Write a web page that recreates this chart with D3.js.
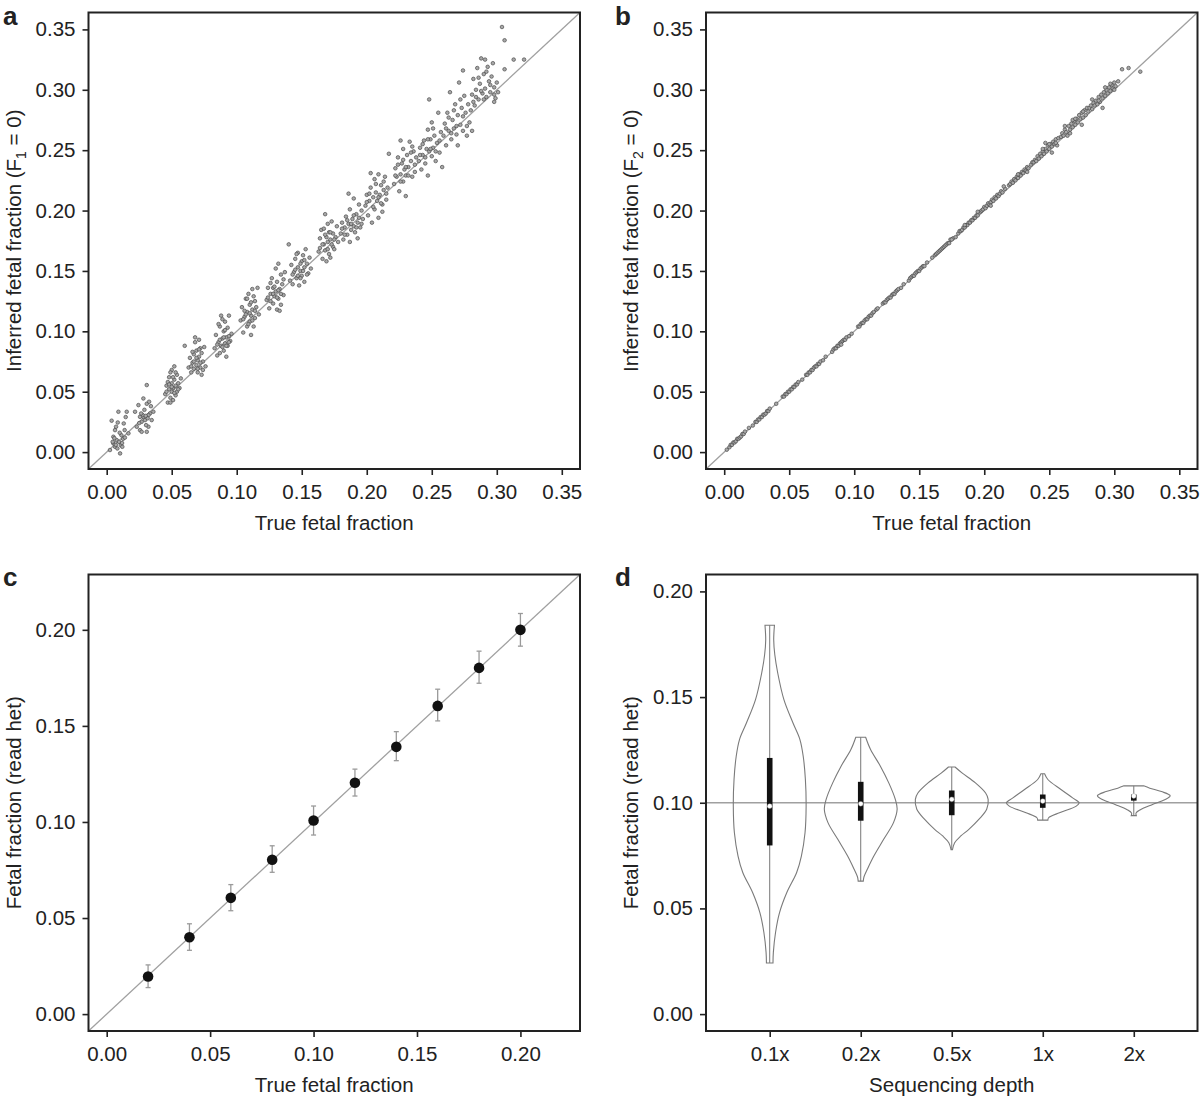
<!DOCTYPE html>
<html><head><meta charset="utf-8">
<script src="https://cdn.jsdelivr.net/npm/d3@7"></script>
<style>
body{margin:0;background:#fff;}
text{font-family:"Liberation Sans",Arial,Helvetica,sans-serif;fill:#222;}
</style></head><body>
<svg id="chart" width="1200" height="1097"></svg>
<script>
// ---------- DATA ----------
// Panel a: [true fetal fraction, inferred (F1 = 0)]
const aPoints = [
[0.0025,0.0017],[0.0051,0.0072],[0.0077,0.0099],[0.0103,-0.0011],[0.0064,0.0182],[0.0090,0.0334],[0.0154,0.0334],[0.0038,0.0260],[0.0131,0.0237],[0.0146,0.0290],[0.0113,0.0140],[0.0095,0.0085],[0.0126,0.0110],[0.0138,0.0182],[0.0064,0.0044],[0.0082,0.0030],[0.0108,0.0058],[0.0051,0.0127],[0.0072,0.0210],[0.0167,0.0155],[0.0046,0.0085],[0.0120,0.0044],
[0.0059,0.0115],[0.0100,0.0160],[0.0118,0.0075],[0.0085,0.0245],[0.0140,0.0120],[0.0070,0.0060],
[0.0256,0.0182],[0.0282,0.0290],[0.0308,0.0400],[0.0244,0.0389],[0.0333,0.0320],[0.0269,0.0251],[0.0295,0.0265],[0.0321,0.0306],[0.0308,0.0555],[0.0359,0.0334],[0.0231,0.0210],[0.0321,0.0210],[0.0218,0.0334],[0.0277,0.0306],[0.0303,0.0223],[0.0346,0.0265],[0.0256,0.0292],[0.0308,0.0168],[0.0326,0.0417],[0.0282,0.0444],[0.0269,0.0168],
[0.0290,0.0350],[0.0315,0.0280],[0.0265,0.0320],[0.0340,0.0380],[0.0250,0.0240],[0.0300,0.0300],
[0.045,0.048],[0.046,0.055],[0.047,0.041],[0.048,0.052],[0.048,0.062],[0.049,0.045],[0.050,0.050],[0.050,0.057],[0.050,0.068],[0.051,0.053],[0.051,0.043],[0.052,0.060],[0.052,0.071],[0.053,0.055],[0.054,0.050],[0.054,0.064],[0.055,0.057],[0.056,0.053],[0.057,0.061],[0.047,0.058],[0.049,0.066],[0.053,0.047],
[0.046,0.050],[0.048,0.056],[0.050,0.054],[0.052,0.049],[0.053,0.066],[0.055,0.052],[0.051,0.062],[0.049,0.041],
[0.060,0.088],[0.063,0.070],[0.064,0.078],[0.065,0.066],[0.066,0.074],[0.067,0.081],[0.067,0.069],[0.068,0.091],[0.069,0.072],[0.069,0.084],[0.070,0.076],[0.070,0.066],[0.071,0.079],[0.071,0.093],[0.072,0.070],[0.073,0.082],[0.073,0.064],[0.074,0.075],[0.075,0.087],[0.076,0.071],[0.068,0.095],[0.072,0.086],
[0.065,0.071],[0.067,0.075],[0.069,0.078],[0.070,0.069],[0.071,0.085],[0.072,0.074],[0.074,0.068],[0.066,0.083],
[0.083,0.086],[0.084,0.097],[0.085,0.080],[0.086,0.091],[0.087,0.104],[0.088,0.088],[0.088,0.113],[0.089,0.094],[0.090,0.084],[0.090,0.100],[0.091,0.090],[0.091,0.108],[0.092,0.095],[0.092,0.079],[0.093,0.103],[0.093,0.088],[0.094,0.113],[0.095,0.092],[0.096,0.098],[0.089,0.110],[0.087,0.082],[0.094,0.096],
[0.085,0.089],[0.087,0.093],[0.089,0.087],[0.090,0.095],[0.091,0.101],[0.092,0.088],[0.094,0.091],[0.086,0.106],
[0.103,0.109],[0.104,0.120],[0.105,0.099],[0.106,0.112],[0.107,0.127],[0.108,0.104],[0.108,0.116],[0.109,0.131],[0.110,0.108],[0.110,0.122],[0.111,0.097],[0.111,0.113],[0.112,0.135],[0.112,0.118],[0.113,0.104],[0.114,0.125],[0.114,0.111],[0.115,0.120],[0.116,0.136],[0.117,0.114],[0.106,0.117],[0.113,0.129],
[0.105,0.110],[0.107,0.114],[0.109,0.106],[0.110,0.115],[0.111,0.124],[0.112,0.109],[0.114,0.117],[0.108,0.127],
[0.123,0.126],[0.124,0.136],[0.125,0.119],[0.126,0.131],[0.127,0.144],[0.128,0.123],[0.128,0.136],[0.129,0.129],[0.130,0.152],[0.130,0.133],[0.131,0.118],[0.131,0.141],[0.132,0.127],[0.132,0.156],[0.133,0.135],[0.134,0.147],[0.134,0.122],[0.135,0.139],[0.136,0.130],[0.137,0.149],[0.126,0.140],[0.133,0.117],
[0.124,0.128],[0.126,0.125],[0.128,0.131],[0.129,0.137],[0.131,0.128],[0.132,0.134],[0.134,0.131],[0.136,0.143],
[0.141,0.142],[0.142,0.155],[0.143,0.139],[0.144,0.149],[0.145,0.160],[0.146,0.144],[0.147,0.153],[0.147,0.165],[0.148,0.138],[0.149,0.150],[0.150,0.158],[0.150,0.146],[0.151,0.163],[0.152,0.153],[0.152,0.141],[0.153,0.168],[0.154,0.156],[0.155,0.148],[0.156,0.161],[0.157,0.152],[0.140,0.172],[0.149,0.144],
[0.143,0.147],[0.145,0.151],[0.147,0.146],[0.149,0.156],[0.151,0.150],[0.152,0.159],[0.154,0.147],[0.146,0.164],
[0.163,0.166],[0.164,0.177],[0.165,0.184],[0.166,0.160],[0.167,0.172],[0.167,0.185],[0.168,0.167],[0.169,0.178],[0.169,0.158],[0.170,0.174],[0.171,0.182],[0.171,0.164],[0.172,0.176],[0.173,0.191],[0.174,0.170],[0.174,0.181],[0.175,0.168],[0.176,0.178],[0.177,0.187],[0.178,0.174],[0.168,0.197],[0.172,0.161],
[0.164,0.169],[0.166,0.172],[0.168,0.180],[0.170,0.168],[0.172,0.182],[0.173,0.172],[0.175,0.176],[0.170,0.189],
[0.180,0.181],[0.181,0.190],[0.182,0.176],[0.183,0.186],[0.184,0.195],[0.185,0.180],[0.186,0.189],[0.187,0.174],[0.187,0.201],[0.188,0.184],[0.189,0.193],[0.190,0.187],[0.190,0.210],[0.191,0.182],[0.192,0.197],[0.193,0.190],[0.194,0.205],[0.195,0.186],[0.196,0.200],[0.197,0.193],[0.186,0.214],[0.193,0.177],
[0.181,0.185],[0.183,0.180],[0.185,0.192],[0.188,0.189],[0.190,0.196],[0.192,0.186],[0.194,0.194],[0.196,0.189],
[0.199,0.204],[0.200,0.213],[0.201,0.196],[0.202,0.208],[0.203,0.219],[0.204,0.190],[0.205,0.211],[0.206,0.226],[0.206,0.201],[0.207,0.215],[0.208,0.208],[0.209,0.230],[0.209,0.194],[0.210,0.213],[0.211,0.221],[0.212,0.205],[0.213,0.217],[0.214,0.228],[0.215,0.209],[0.216,0.219],[0.203,0.231],[0.212,0.199],[0.217,0.247],
[0.200,0.207],[0.202,0.214],[0.205,0.203],[0.207,0.222],[0.209,0.211],[0.211,0.206],[0.213,0.224],[0.215,0.214],
[0.221,0.222],[0.222,0.235],[0.223,0.228],[0.224,0.244],[0.225,0.216],[0.226,0.230],[0.227,0.239],[0.228,0.251],[0.228,0.224],[0.229,0.234],[0.230,0.229],[0.231,0.246],[0.232,0.236],[0.233,0.257],[0.234,0.241],[0.235,0.228],[0.236,0.249],[0.237,0.238],[0.238,0.244],[0.230,0.212],[0.226,0.258],[0.235,0.253],
[0.222,0.229],[0.224,0.238],[0.226,0.224],[0.228,0.242],[0.230,0.236],[0.232,0.229],[0.234,0.248],[0.237,0.232],
[0.240,0.241],[0.241,0.252],[0.242,0.234],[0.243,0.246],[0.244,0.258],[0.245,0.239],[0.246,0.251],[0.247,0.267],[0.247,0.229],[0.248,0.249],[0.249,0.259],[0.250,0.245],[0.250,0.273],[0.251,0.252],[0.252,0.262],[0.253,0.241],[0.254,0.256],[0.255,0.281],[0.256,0.248],[0.257,0.265],[0.248,0.292],[0.258,0.236],
[0.241,0.246],[0.243,0.255],[0.245,0.244],[0.247,0.259],[0.249,0.251],[0.251,0.268],[0.253,0.249],[0.256,0.258],
[0.259,0.262],[0.260,0.272],[0.261,0.254],[0.262,0.281],[0.263,0.266],[0.264,0.298],[0.265,0.259],[0.266,0.275],[0.267,0.268],[0.268,0.288],[0.269,0.263],[0.270,0.279],[0.271,0.306],[0.272,0.271],[0.273,0.285],[0.274,0.266],[0.275,0.295],[0.276,0.281],[0.277,0.262],[0.278,0.288],[0.279,0.273],[0.274,0.316],[0.270,0.254],
[0.261,0.268],[0.263,0.277],[0.265,0.264],[0.267,0.283],[0.269,0.270],[0.272,0.292],[0.274,0.278],[0.277,0.270],
[0.280,0.283],[0.281,0.296],[0.282,0.309],[0.283,0.287],[0.284,0.300],[0.285,0.318],[0.286,0.292],[0.287,0.305],[0.288,0.326],[0.289,0.297],[0.290,0.313],[0.291,0.301],[0.292,0.294],[0.293,0.319],[0.294,0.307],[0.295,0.298],[0.296,0.311],[0.297,0.322],[0.298,0.302],[0.299,0.293],[0.300,0.306],[0.281,0.266],[0.291,0.325],
[0.282,0.290],[0.284,0.294],[0.286,0.310],[0.288,0.299],[0.290,0.292],[0.292,0.315],[0.295,0.304],[0.298,0.296],
[0.304,0.352],[0.306,0.341],[0.306,0.317],[0.313,0.325],[0.321,0.325],[0.301,0.298],[0.298,0.290]
];
// Panel b: [true fetal fraction, inferred (F2 = 0)]
const bPoints = [
[0.002,0.002],[0.004,0.004],[0.005,0.006],[0.006,0.006],[0.007,0.008],[0.008,0.008],[0.009,0.009],[0.010,0.011],[0.011,0.011],[0.012,0.012],[0.013,0.013],[0.014,0.015],[0.015,0.015],[0.016,0.017],
[0.022,0.022],[0.024,0.025],[0.025,0.025],[0.026,0.027],[0.027,0.027],[0.028,0.029],[0.029,0.029],[0.030,0.031],[0.031,0.031],[0.032,0.032],[0.033,0.034],[0.034,0.034],[0.035,0.036],
[0.045,0.046],[0.046,0.046],[0.047,0.048],[0.048,0.048],[0.049,0.050],[0.050,0.050],[0.051,0.052],[0.052,0.052],[0.053,0.054],[0.054,0.054],[0.055,0.056],[0.056,0.056],[0.057,0.058],
[0.063,0.064],[0.064,0.064],[0.065,0.066],[0.066,0.066],[0.067,0.068],[0.068,0.068],[0.069,0.070],[0.070,0.071],[0.071,0.071],[0.072,0.073],[0.073,0.073],[0.074,0.075],[0.076,0.076],
[0.083,0.083],[0.084,0.085],[0.085,0.086],[0.086,0.086],[0.087,0.088],[0.088,0.088],[0.089,0.090],[0.090,0.091],[0.090,0.089],[0.091,0.092],[0.092,0.093],[0.093,0.093],[0.094,0.095],[0.096,0.096],
[0.103,0.104],[0.104,0.104],[0.105,0.106],[0.106,0.107],[0.107,0.107],[0.108,0.109],[0.109,0.110],[0.110,0.110],[0.111,0.112],[0.112,0.113],[0.113,0.113],[0.114,0.115],[0.115,0.116],[0.117,0.118],
[0.122,0.123],[0.123,0.124],[0.124,0.124],[0.125,0.126],[0.126,0.127],[0.127,0.128],[0.128,0.128],[0.129,0.130],[0.130,0.131],[0.131,0.131],[0.132,0.133],[0.133,0.134],[0.134,0.135],[0.136,0.136],
[0.142,0.142],[0.143,0.144],[0.144,0.145],[0.145,0.146],[0.146,0.146],[0.147,0.148],[0.148,0.149],[0.149,0.150],[0.150,0.150],[0.151,0.152],[0.152,0.153],[0.153,0.154],[0.154,0.154],[0.156,0.157],
[0.162,0.163],[0.163,0.164],[0.164,0.165],[0.165,0.166],[0.166,0.167],[0.167,0.168],[0.168,0.169],[0.169,0.170],[0.170,0.171],[0.171,0.172],[0.172,0.173],[0.173,0.173],[0.174,0.176],[0.176,0.177],[0.178,0.178],
[0.180,0.181],[0.181,0.183],[0.182,0.183],[0.183,0.184],[0.184,0.186],[0.185,0.186],[0.186,0.188],[0.187,0.188],[0.188,0.190],[0.189,0.190],[0.190,0.192],[0.191,0.192],[0.192,0.194],[0.193,0.194],[0.194,0.196],[0.195,0.196],[0.197,0.199],
[0.198,0.200],[0.199,0.201],[0.200,0.203],[0.201,0.202],[0.202,0.204],[0.203,0.206],[0.204,0.205],[0.205,0.207],[0.206,0.209],[0.207,0.208],[0.208,0.211],[0.209,0.210],[0.210,0.213],[0.211,0.212],[0.212,0.214],[0.213,0.216],[0.214,0.215],[0.216,0.218],
[0.219,0.221],[0.220,0.222],[0.221,0.224],[0.222,0.223],[0.223,0.226],[0.224,0.225],[0.225,0.228],[0.226,0.227],[0.227,0.230],[0.228,0.229],[0.229,0.232],[0.230,0.231],[0.231,0.234],[0.232,0.233],[0.233,0.236],[0.234,0.235],[0.236,0.238],[0.237,0.240],
[0.238,0.240],[0.239,0.242],[0.240,0.241],[0.241,0.245],[0.242,0.243],[0.243,0.247],[0.244,0.245],[0.245,0.249],[0.246,0.247],[0.247,0.251],[0.248,0.249],[0.249,0.254],[0.250,0.251],[0.251,0.255],[0.252,0.253],[0.253,0.257],[0.254,0.255],[0.255,0.259],[0.256,0.254],[0.257,0.260],[0.247,0.256],[0.252,0.248],
[0.259,0.261],[0.260,0.264],[0.261,0.262],[0.262,0.267],[0.263,0.265],[0.264,0.262],[0.265,0.270],[0.266,0.267],[0.267,0.272],[0.268,0.269],[0.269,0.274],[0.270,0.271],[0.271,0.276],[0.272,0.273],[0.273,0.279],[0.274,0.276],[0.275,0.281],[0.276,0.277],[0.277,0.283],[0.278,0.279],[0.279,0.285],[0.268,0.275],[0.275,0.271],
[0.280,0.282],[0.281,0.285],[0.282,0.287],[0.283,0.284],[0.284,0.289],[0.285,0.287],[0.286,0.291],[0.287,0.288],[0.288,0.294],[0.289,0.290],[0.290,0.296],[0.291,0.293],[0.292,0.298],[0.293,0.295],[0.294,0.300],[0.295,0.297],[0.296,0.302],[0.297,0.299],[0.298,0.304],[0.299,0.301],[0.300,0.306],[0.301,0.303],[0.303,0.307],[0.306,0.317],[0.311,0.318],[0.320,0.315],[0.291,0.285],
[0.245,0.251],[0.250,0.255],[0.255,0.256],[0.262,0.270],[0.266,0.264],[0.270,0.276],[0.276,0.282],[0.283,0.292],[0.288,0.291],[0.293,0.302],[0.297,0.305],[0.300,0.300],[0.233,0.232],[0.226,0.230],[0.215,0.220],[0.205,0.204],[0.195,0.199],[0.185,0.188],[0.175,0.176],[0.160,0.161],[0.138,0.139],[0.118,0.119],[0.098,0.098],[0.078,0.079],[0.060,0.060],[0.040,0.040],[0.019,0.020]
];
// Panel c
const cTrue  = [0.02,0.04,0.06,0.08,0.10,0.12,0.14,0.16,0.18,0.20];
const cMean  = [0.0196,0.0400,0.0605,0.0803,0.1008,0.1204,0.1391,0.1604,0.1802,0.2000];
const cLower = [0.0138,0.0332,0.0538,0.0738,0.0932,0.1135,0.1319,0.1526,0.1722,0.1915];
const cUpper = [0.0256,0.0470,0.0674,0.0876,0.1083,0.1275,0.1470,0.1691,0.1889,0.2085];
// Panel d: violin outlines as [value, relative half-width]
const depthLabels = ["0.1x","0.2x","0.5x","1x","2x"];
const vio01 = [[0.184,0.13],[0.177,0.11],[0.170,0.14],[0.1614,0.22],[0.1488,0.39],[0.1377,0.64],[0.1299,0.83],[0.1220,0.92],[0.1110,0.98],[0.0984,1.0],[0.0858,0.97],[0.0748,0.87],[0.0670,0.74],[0.0575,0.47],[0.0480,0.27],[0.0386,0.16],[0.0292,0.10],[0.0242,0.09]];
const vio02 = [[0.1310,0.135],[0.1252,0.27],[0.1173,0.54],[0.1094,0.77],[0.1016,0.95],[0.0969,1.0],[0.0906,0.90],[0.0827,0.63],[0.0748,0.36],[0.0685,0.18],[0.0650,0.09],[0.0629,0.07]];
const vio05 = [[0.1169,0.09],[0.1140,0.29],[0.1094,0.65],[0.1046,0.93],[0.1016,1.0],[0.0969,0.96],[0.0922,0.75],[0.0874,0.47],[0.0843,0.25],[0.0811,0.08],[0.0778,0.02]];
const vio1  = [[0.1137,0.05],[0.1110,0.14],[0.1063,0.50],[0.1023,0.82],[0.1000,1.0],[0.0984,0.92],[0.0953,0.46],[0.0929,0.16],[0.0918,0.14]];
const vio2  = [[0.1080,0.27],[0.1069,0.44],[0.1053,0.76],[0.1033,1.0],[0.1014,0.85],[0.0991,0.50],[0.0967,0.18],[0.0951,0.06],[0.0939,0.07]];
const vioQ1  = [0.0798,0.0915,0.0941,0.0976,0.1010];
const vioMed = [0.0984,0.0995,0.1016,0.1008,0.1032];
const vioQ3  = [0.1212,0.1099,0.1058,0.1039,0.1039];
// ticks
const ticksAB = [0,0.05,0.10,0.15,0.20,0.25,0.30,0.35];
const ticksCD = [0,0.05,0.10,0.15,0.20];

// ---------- DRAW ----------
const svg = d3.select("#chart");
const ext = (lo,hi)=>[lo-0.04*(hi-lo), hi+0.04*(hi-lo)];
const fmt = d3.format(".2f");

function panel(p){
  const x = d3.scaleLinear().domain(p.xd).range([p.L,p.R]);
  const y = d3.scaleLinear().domain(p.yd).range([p.B,p.T]);
  const g = svg.append("g");
  const xa = g.append("g").attr("transform",`translate(0,${p.B})`)
    .call(d3.axisBottom(x).tickValues(p.xt).tickFormat(p.xf||fmt).tickSize(6).tickPadding(9));
  const ya = g.append("g").attr("transform",`translate(${p.L},0)`)
    .call(d3.axisLeft(y).tickValues(p.yt).tickFormat(fmt).tickSize(6).tickPadding(7));
  [xa,ya].forEach(a=>{
    a.attr("font-size",20.5).attr("font-family",null);
    a.select(".domain").remove();
    a.selectAll(".tick line").attr("stroke","#222").attr("stroke-width",1.6);
    a.selectAll(".tick text").attr("fill","#222");
  });
  g.append("text").attr("x",(p.L+p.R)/2).attr("y",p.B+61).attr("text-anchor","middle")
    .attr("font-size",20.5).text(p.xtitle);
  const yt = g.append("text").attr("transform",`translate(${p.L-68},${(p.T+p.B)/2}) rotate(-90)`)
    .attr("text-anchor","middle").attr("font-size",20.5);
  p.ytitle(yt);
  g.append("text").attr("x",p.lx).attr("y",p.ly).attr("font-size",26).attr("font-weight","bold").text(p.label);
  const plot = g.append("g");
  g.append("rect").attr("x",p.L).attr("y",p.T).attr("width",p.R-p.L).attr("height",p.B-p.T)
    .attr("fill","none").attr("stroke","#222").attr("stroke-width",2);
  return {x,y,plot};
}

function subTitle(prefix, sub){
  return t=>{ t.append("tspan").text(prefix);
    t.append("tspan").attr("font-size",14).attr("dy",5).text(sub);
    t.append("tspan").attr("dy",-5).text(" = 0)"); };
}

const abDom = ext(0,0.35), cDom = ext(0,0.22), dDom = ext(0,0.2);

// Panel a
const pa = panel({L:88.5,R:580,T:12.5,B:469,xd:abDom,yd:abDom,xt:ticksAB,yt:ticksAB,
  xtitle:"True fetal fraction",ytitle:subTitle("Inferred fetal fraction (F","1"),label:"a",lx:3,ly:25});
// Panel b
const pb = panel({L:706,R:1197.5,T:12.5,B:469,xd:abDom,yd:abDom,xt:ticksAB,yt:ticksAB,
  xtitle:"True fetal fraction",ytitle:subTitle("Inferred fetal fraction (F","2"),label:"b",lx:615,ly:25});
// Panel c
const pc = panel({L:88.5,R:580,T:574.5,B:1031,xd:cDom,yd:cDom,xt:ticksCD,yt:ticksCD,
  xtitle:"True fetal fraction",ytitle:t=>t.text("Fetal fraction (read het)"),label:"c",lx:3,ly:586});
// Panel d
const pd = panel({L:706,R:1197.5,T:574.5,B:1031,xd:ext(0.5,5.5),yd:dDom,xt:[1,2,3,4,5],yt:ticksCD,
  xf:(d,i)=>depthLabels[i],
  xtitle:"Sequencing depth",ytitle:t=>t.text("Fetal fraction (read het)"),label:"d",lx:615,ly:586});

// diagonals
[[pa,abDom],[pb,abDom],[pc,cDom]].forEach(([p,dom])=>{
  p.plot.append("line").attr("x1",p.x(dom[0])).attr("y1",p.y(dom[0])).attr("x2",p.x(dom[1])).attr("y2",p.y(dom[1]))
    .attr("stroke","#a0a0a0").attr("stroke-width",1.3);
});
// scatter a & b
[[pa,aPoints],[pb,bPoints]].forEach(([p,pts])=>{
  p.plot.selectAll("circle.pt").data(pts).join("circle").attr("class","pt")
    .attr("cx",d=>p.x(d[0])).attr("cy",d=>p.y(d[1])).attr("r",1.8)
    .attr("fill","#a8a8a8").attr("stroke","#4a4a4a").attr("stroke-width",0.7);
});
// panel c error bars and points
const eb = pc.plot.selectAll("g.eb").data(cTrue.map((t,i)=>({t,m:cMean[i],lo:cLower[i],hi:cUpper[i]}))).join("g");
eb.append("line").attr("x1",d=>pc.x(d.t)).attr("x2",d=>pc.x(d.t)).attr("y1",d=>pc.y(d.lo)).attr("y2",d=>pc.y(d.hi))
  .attr("stroke","#9a9a9a").attr("stroke-width",1.3);
eb.append("line").attr("x1",d=>pc.x(d.t)-2.5).attr("x2",d=>pc.x(d.t)+2.5).attr("y1",d=>pc.y(d.lo)).attr("y2",d=>pc.y(d.lo))
  .attr("stroke","#9a9a9a").attr("stroke-width",1.3);
eb.append("line").attr("x1",d=>pc.x(d.t)-2.5).attr("x2",d=>pc.x(d.t)+2.5).attr("y1",d=>pc.y(d.hi)).attr("y2",d=>pc.y(d.hi))
  .attr("stroke","#9a9a9a").attr("stroke-width",1.3);
eb.append("circle").attr("cx",d=>pc.x(d.t)).attr("cy",d=>pc.y(d.m)).attr("r",5.3).attr("fill","#111");

// panel d
pd.plot.append("line").attr("x1",pd.x(ext(0.5,5.5)[0])).attr("x2",pd.x(ext(0.5,5.5)[1]))
  .attr("y1",pd.y(0.1)).attr("y2",pd.y(0.1)).attr("stroke","#a0a0a0").attr("stroke-width",1.4);
const vios = [vio01,vio02,vio05,vio1,vio2];
const line = d3.line().curve(d3.curveCatmullRom.alpha(0.5));
vios.forEach((prof,i)=>{
  const c = i+1;
  const right = prof.map(([v,w])=>[pd.x(c+0.4*w),pd.y(v)]);
  const left = prof.map(([v,w])=>[pd.x(c-0.4*w),pd.y(v)]).reverse();
  const d = line(right) + "L" + line(left).slice(1) + "Z";
  const cx = pd.x(c);
  pd.plot.append("line").attr("x1",cx).attr("x2",cx).attr("y1",pd.y(prof[0][0])).attr("y2",pd.y(prof[prof.length-1][0]))
    .attr("stroke","#777").attr("stroke-width",1);
  pd.plot.append("path").attr("d",d).attr("fill","none").attr("stroke","#7a7a7a").attr("stroke-width",1.1);
  pd.plot.append("rect").attr("x",cx-2.8).attr("width",5.6).attr("y",pd.y(vioQ3[i])).attr("height",pd.y(vioQ1[i])-pd.y(vioQ3[i]))
    .attr("fill","#111");
  pd.plot.append("circle").attr("cx",cx).attr("cy",pd.y(vioMed[i])).attr("r",2.4).attr("fill","#fff").attr("stroke","#999").attr("stroke-width",0.4);
});
</script>
</body></html>
